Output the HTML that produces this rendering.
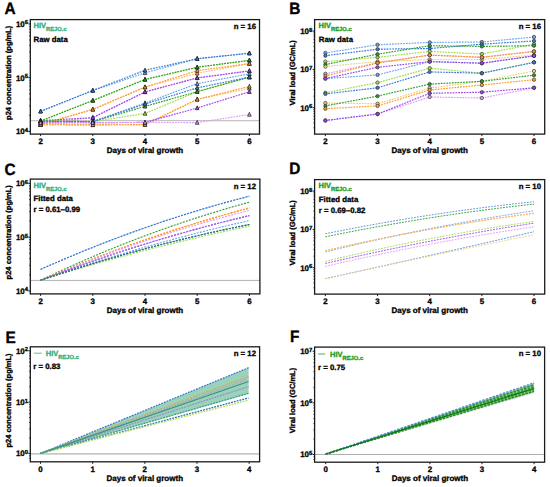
<!DOCTYPE html>
<html><head><meta charset="utf-8"><style>
html,body{margin:0;padding:0;background:#fff;width:550px;height:487px;overflow:hidden}
svg{display:block}
text{font-family:'Liberation Sans',sans-serif;font-weight:bold;text-rendering:geometricPrecision;stroke:currentColor;stroke-width:0.32px}
</style></head><body>
<svg width="550" height="487" viewBox="0 0 550 487">
<rect width="550" height="487" fill="#fff"/>
<line x1="30.3" y1="120.6" x2="259.5" y2="120.6" stroke="#c4c4c4" stroke-width="1.2"/>
<polyline points="40.60,111.30 92.80,90.50 145.00,72.90 197.20,58.70 249.40,53.20" fill="none" stroke="#6aa6e8" stroke-width="1.15" stroke-dasharray="1.8 1.0" opacity="1"/>
<polyline points="40.60,111.30 92.80,90.50 145.00,70.30 197.20,58.70 249.40,53.20" fill="none" stroke="#3a78dc" stroke-width="1.15" stroke-dasharray="1.8 1.0" opacity="1"/>
<polyline points="40.60,121.00 92.80,100.50 145.00,79.50 197.20,67.30 249.40,60.30" fill="none" stroke="#9ede46" stroke-width="1.15" stroke-dasharray="1.8 1.0" opacity="1"/>
<polyline points="40.60,121.00 92.80,100.50 145.00,79.50 197.20,67.30 249.40,60.30" fill="none" stroke="#2a9f2a" stroke-width="1.15" stroke-dasharray="1.8 1.0" opacity="1"/>
<polyline points="40.60,124.70 92.80,109.40 145.00,87.10 197.20,73.30 249.40,63.60" fill="none" stroke="#ffbf70" stroke-width="1.15" stroke-dasharray="1.8 1.0" opacity="1"/>
<polyline points="40.60,124.70 92.80,109.40 145.00,87.10 197.20,70.60 249.40,63.60" fill="none" stroke="#ff9a2a" stroke-width="1.15" stroke-dasharray="1.8 1.0" opacity="1"/>
<polyline points="40.60,122.90 92.80,117.70 145.00,91.90 197.20,77.90 249.40,70.90" fill="none" stroke="#dc9cf6" stroke-width="1.15" stroke-dasharray="1.8 1.0" opacity="1"/>
<polyline points="40.60,120.60 92.80,117.70 145.00,91.90 197.20,77.90 249.40,70.90" fill="none" stroke="#9a45ee" stroke-width="1.15" stroke-dasharray="1.8 1.0" opacity="1"/>
<polyline points="40.60,121.00 92.80,121.60 145.00,113.50 197.20,91.60 249.40,77.10" fill="none" stroke="#9ede46" stroke-width="1.15" stroke-dasharray="1.8 1.0" opacity="1"/>
<polyline points="40.60,121.00 92.80,121.60 145.00,106.40 197.20,91.60 249.40,77.10" fill="none" stroke="#2a9f2a" stroke-width="1.15" stroke-dasharray="1.8 1.0" opacity="1"/>
<polyline points="40.60,121.60 92.80,121.60 145.00,103.00 197.20,83.70 249.40,73.80" fill="none" stroke="#6aa6e8" stroke-width="1.15" stroke-dasharray="1.8 1.0" opacity="1"/>
<polyline points="40.60,121.60 92.80,121.60 145.00,104.00 197.20,87.90 249.40,77.10" fill="none" stroke="#3a78dc" stroke-width="1.15" stroke-dasharray="1.8 1.0" opacity="1"/>
<polyline points="40.60,124.70 92.80,124.90 145.00,124.60 197.20,99.40 249.40,88.30" fill="none" stroke="#ffbf70" stroke-width="1.15" stroke-dasharray="1.8 1.0" opacity="1"/>
<polyline points="40.60,124.70 92.80,124.90 145.00,124.60 197.20,99.40 249.40,86.40" fill="none" stroke="#ff9a2a" stroke-width="1.15" stroke-dasharray="1.8 1.0" opacity="1"/>
<polyline points="40.60,122.90 92.80,122.70 145.00,122.40 197.20,108.00 249.40,91.80" fill="none" stroke="#9a45ee" stroke-width="1.15" stroke-dasharray="1.8 1.0" opacity="1"/>
<polyline points="40.60,122.90 92.80,122.70 145.00,122.40 197.20,122.60 249.40,114.50" fill="none" stroke="#dc9cf6" stroke-width="1.15" stroke-dasharray="1.8 1.0" opacity="1"/>
<polygon points="40.60,109.10 42.40,113.00 38.80,113.00" fill="#6aa6e8" stroke="#151515" stroke-width="0.7" stroke-linejoin="round"/>
<polygon points="92.80,88.30 94.60,92.20 91.00,92.20" fill="#6aa6e8" stroke="#151515" stroke-width="0.7" stroke-linejoin="round"/>
<polygon points="145.00,70.70 146.80,74.60 143.20,74.60" fill="#6aa6e8" stroke="#151515" stroke-width="0.7" stroke-linejoin="round"/>
<polygon points="197.20,56.50 199.00,60.40 195.40,60.40" fill="#6aa6e8" stroke="#151515" stroke-width="0.7" stroke-linejoin="round"/>
<polygon points="249.40,51.00 251.20,54.90 247.60,54.90" fill="#6aa6e8" stroke="#151515" stroke-width="0.7" stroke-linejoin="round"/>
<polygon points="40.60,109.10 42.40,113.00 38.80,113.00" fill="#3a78dc" stroke="#151515" stroke-width="0.7" stroke-linejoin="round"/>
<polygon points="92.80,88.30 94.60,92.20 91.00,92.20" fill="#3a78dc" stroke="#151515" stroke-width="0.7" stroke-linejoin="round"/>
<polygon points="145.00,68.10 146.80,72.00 143.20,72.00" fill="#3a78dc" stroke="#151515" stroke-width="0.7" stroke-linejoin="round"/>
<polygon points="197.20,56.50 199.00,60.40 195.40,60.40" fill="#3a78dc" stroke="#151515" stroke-width="0.7" stroke-linejoin="round"/>
<polygon points="249.40,51.00 251.20,54.90 247.60,54.90" fill="#3a78dc" stroke="#151515" stroke-width="0.7" stroke-linejoin="round"/>
<polygon points="40.60,118.80 42.40,122.70 38.80,122.70" fill="#9ede46" stroke="#151515" stroke-width="0.7" stroke-linejoin="round"/>
<polygon points="92.80,98.30 94.60,102.20 91.00,102.20" fill="#9ede46" stroke="#151515" stroke-width="0.7" stroke-linejoin="round"/>
<polygon points="145.00,77.30 146.80,81.20 143.20,81.20" fill="#9ede46" stroke="#151515" stroke-width="0.7" stroke-linejoin="round"/>
<polygon points="197.20,65.10 199.00,69.00 195.40,69.00" fill="#9ede46" stroke="#151515" stroke-width="0.7" stroke-linejoin="round"/>
<polygon points="249.40,58.10 251.20,62.00 247.60,62.00" fill="#9ede46" stroke="#151515" stroke-width="0.7" stroke-linejoin="round"/>
<polygon points="40.60,118.80 42.40,122.70 38.80,122.70" fill="#2a9f2a" stroke="#151515" stroke-width="0.7" stroke-linejoin="round"/>
<polygon points="92.80,98.30 94.60,102.20 91.00,102.20" fill="#2a9f2a" stroke="#151515" stroke-width="0.7" stroke-linejoin="round"/>
<polygon points="145.00,77.30 146.80,81.20 143.20,81.20" fill="#2a9f2a" stroke="#151515" stroke-width="0.7" stroke-linejoin="round"/>
<polygon points="197.20,65.10 199.00,69.00 195.40,69.00" fill="#2a9f2a" stroke="#151515" stroke-width="0.7" stroke-linejoin="round"/>
<polygon points="249.40,58.10 251.20,62.00 247.60,62.00" fill="#2a9f2a" stroke="#151515" stroke-width="0.7" stroke-linejoin="round"/>
<polygon points="40.60,122.50 42.40,126.40 38.80,126.40" fill="#ffbf70" stroke="#151515" stroke-width="0.7" stroke-linejoin="round"/>
<polygon points="92.80,107.20 94.60,111.10 91.00,111.10" fill="#ffbf70" stroke="#151515" stroke-width="0.7" stroke-linejoin="round"/>
<polygon points="145.00,84.90 146.80,88.80 143.20,88.80" fill="#ffbf70" stroke="#151515" stroke-width="0.7" stroke-linejoin="round"/>
<polygon points="197.20,71.10 199.00,75.00 195.40,75.00" fill="#ffbf70" stroke="#151515" stroke-width="0.7" stroke-linejoin="round"/>
<polygon points="249.40,61.40 251.20,65.30 247.60,65.30" fill="#ffbf70" stroke="#151515" stroke-width="0.7" stroke-linejoin="round"/>
<polygon points="40.60,122.50 42.40,126.40 38.80,126.40" fill="#ff9a2a" stroke="#151515" stroke-width="0.7" stroke-linejoin="round"/>
<polygon points="92.80,107.20 94.60,111.10 91.00,111.10" fill="#ff9a2a" stroke="#151515" stroke-width="0.7" stroke-linejoin="round"/>
<polygon points="145.00,84.90 146.80,88.80 143.20,88.80" fill="#ff9a2a" stroke="#151515" stroke-width="0.7" stroke-linejoin="round"/>
<polygon points="197.20,68.40 199.00,72.30 195.40,72.30" fill="#ff9a2a" stroke="#151515" stroke-width="0.7" stroke-linejoin="round"/>
<polygon points="249.40,61.40 251.20,65.30 247.60,65.30" fill="#ff9a2a" stroke="#151515" stroke-width="0.7" stroke-linejoin="round"/>
<polygon points="40.60,120.70 42.40,124.60 38.80,124.60" fill="#dc9cf6" stroke="#151515" stroke-width="0.7" stroke-linejoin="round"/>
<polygon points="92.80,115.50 94.60,119.40 91.00,119.40" fill="#dc9cf6" stroke="#151515" stroke-width="0.7" stroke-linejoin="round"/>
<polygon points="145.00,89.70 146.80,93.60 143.20,93.60" fill="#dc9cf6" stroke="#151515" stroke-width="0.7" stroke-linejoin="round"/>
<polygon points="197.20,75.70 199.00,79.60 195.40,79.60" fill="#dc9cf6" stroke="#151515" stroke-width="0.7" stroke-linejoin="round"/>
<polygon points="249.40,68.70 251.20,72.60 247.60,72.60" fill="#dc9cf6" stroke="#151515" stroke-width="0.7" stroke-linejoin="round"/>
<polygon points="40.60,118.40 42.40,122.30 38.80,122.30" fill="#9a45ee" stroke="#151515" stroke-width="0.7" stroke-linejoin="round"/>
<polygon points="92.80,115.50 94.60,119.40 91.00,119.40" fill="#9a45ee" stroke="#151515" stroke-width="0.7" stroke-linejoin="round"/>
<polygon points="145.00,89.70 146.80,93.60 143.20,93.60" fill="#9a45ee" stroke="#151515" stroke-width="0.7" stroke-linejoin="round"/>
<polygon points="197.20,75.70 199.00,79.60 195.40,79.60" fill="#9a45ee" stroke="#151515" stroke-width="0.7" stroke-linejoin="round"/>
<polygon points="249.40,68.70 251.20,72.60 247.60,72.60" fill="#9a45ee" stroke="#151515" stroke-width="0.7" stroke-linejoin="round"/>
<polygon points="40.60,118.80 42.40,122.70 38.80,122.70" fill="#9ede46" stroke="#151515" stroke-width="0.7" stroke-linejoin="round"/>
<polygon points="92.80,119.40 94.60,123.30 91.00,123.30" fill="#9ede46" stroke="#151515" stroke-width="0.7" stroke-linejoin="round"/>
<polygon points="145.00,111.30 146.80,115.20 143.20,115.20" fill="#9ede46" stroke="#151515" stroke-width="0.7" stroke-linejoin="round"/>
<polygon points="197.20,89.40 199.00,93.30 195.40,93.30" fill="#9ede46" stroke="#151515" stroke-width="0.7" stroke-linejoin="round"/>
<polygon points="249.40,74.90 251.20,78.80 247.60,78.80" fill="#9ede46" stroke="#151515" stroke-width="0.7" stroke-linejoin="round"/>
<polygon points="40.60,118.80 42.40,122.70 38.80,122.70" fill="#2a9f2a" stroke="#151515" stroke-width="0.7" stroke-linejoin="round"/>
<polygon points="92.80,119.40 94.60,123.30 91.00,123.30" fill="#2a9f2a" stroke="#151515" stroke-width="0.7" stroke-linejoin="round"/>
<polygon points="145.00,104.20 146.80,108.10 143.20,108.10" fill="#2a9f2a" stroke="#151515" stroke-width="0.7" stroke-linejoin="round"/>
<polygon points="197.20,89.40 199.00,93.30 195.40,93.30" fill="#2a9f2a" stroke="#151515" stroke-width="0.7" stroke-linejoin="round"/>
<polygon points="249.40,74.90 251.20,78.80 247.60,78.80" fill="#2a9f2a" stroke="#151515" stroke-width="0.7" stroke-linejoin="round"/>
<polygon points="40.60,119.40 42.40,123.30 38.80,123.30" fill="#6aa6e8" stroke="#151515" stroke-width="0.7" stroke-linejoin="round"/>
<polygon points="92.80,119.40 94.60,123.30 91.00,123.30" fill="#6aa6e8" stroke="#151515" stroke-width="0.7" stroke-linejoin="round"/>
<polygon points="145.00,100.80 146.80,104.70 143.20,104.70" fill="#6aa6e8" stroke="#151515" stroke-width="0.7" stroke-linejoin="round"/>
<polygon points="197.20,81.50 199.00,85.40 195.40,85.40" fill="#6aa6e8" stroke="#151515" stroke-width="0.7" stroke-linejoin="round"/>
<polygon points="249.40,71.60 251.20,75.50 247.60,75.50" fill="#6aa6e8" stroke="#151515" stroke-width="0.7" stroke-linejoin="round"/>
<polygon points="40.60,119.40 42.40,123.30 38.80,123.30" fill="#3a78dc" stroke="#151515" stroke-width="0.7" stroke-linejoin="round"/>
<polygon points="92.80,119.40 94.60,123.30 91.00,123.30" fill="#3a78dc" stroke="#151515" stroke-width="0.7" stroke-linejoin="round"/>
<polygon points="145.00,101.80 146.80,105.70 143.20,105.70" fill="#3a78dc" stroke="#151515" stroke-width="0.7" stroke-linejoin="round"/>
<polygon points="197.20,85.70 199.00,89.60 195.40,89.60" fill="#3a78dc" stroke="#151515" stroke-width="0.7" stroke-linejoin="round"/>
<polygon points="249.40,74.90 251.20,78.80 247.60,78.80" fill="#3a78dc" stroke="#151515" stroke-width="0.7" stroke-linejoin="round"/>
<polygon points="40.60,122.50 42.40,126.40 38.80,126.40" fill="#ffbf70" stroke="#151515" stroke-width="0.7" stroke-linejoin="round"/>
<polygon points="92.80,122.70 94.60,126.60 91.00,126.60" fill="#ffbf70" stroke="#151515" stroke-width="0.7" stroke-linejoin="round"/>
<polygon points="145.00,122.40 146.80,126.30 143.20,126.30" fill="#ffbf70" stroke="#151515" stroke-width="0.7" stroke-linejoin="round"/>
<polygon points="197.20,97.20 199.00,101.10 195.40,101.10" fill="#ffbf70" stroke="#151515" stroke-width="0.7" stroke-linejoin="round"/>
<polygon points="249.40,86.10 251.20,90.00 247.60,90.00" fill="#ffbf70" stroke="#151515" stroke-width="0.7" stroke-linejoin="round"/>
<polygon points="40.60,122.50 42.40,126.40 38.80,126.40" fill="#ff9a2a" stroke="#151515" stroke-width="0.7" stroke-linejoin="round"/>
<polygon points="92.80,122.70 94.60,126.60 91.00,126.60" fill="#ff9a2a" stroke="#151515" stroke-width="0.7" stroke-linejoin="round"/>
<polygon points="145.00,122.40 146.80,126.30 143.20,126.30" fill="#ff9a2a" stroke="#151515" stroke-width="0.7" stroke-linejoin="round"/>
<polygon points="197.20,97.20 199.00,101.10 195.40,101.10" fill="#ff9a2a" stroke="#151515" stroke-width="0.7" stroke-linejoin="round"/>
<polygon points="249.40,84.20 251.20,88.10 247.60,88.10" fill="#ff9a2a" stroke="#151515" stroke-width="0.7" stroke-linejoin="round"/>
<polygon points="40.60,120.70 42.40,124.60 38.80,124.60" fill="#9a45ee" stroke="#151515" stroke-width="0.7" stroke-linejoin="round"/>
<polygon points="92.80,120.50 94.60,124.40 91.00,124.40" fill="#9a45ee" stroke="#151515" stroke-width="0.7" stroke-linejoin="round"/>
<polygon points="145.00,120.20 146.80,124.10 143.20,124.10" fill="#9a45ee" stroke="#151515" stroke-width="0.7" stroke-linejoin="round"/>
<polygon points="197.20,105.80 199.00,109.70 195.40,109.70" fill="#9a45ee" stroke="#151515" stroke-width="0.7" stroke-linejoin="round"/>
<polygon points="249.40,89.60 251.20,93.50 247.60,93.50" fill="#9a45ee" stroke="#151515" stroke-width="0.7" stroke-linejoin="round"/>
<polygon points="40.60,120.70 42.40,124.60 38.80,124.60" fill="#dc9cf6" stroke="#151515" stroke-width="0.7" stroke-linejoin="round"/>
<polygon points="92.80,120.50 94.60,124.40 91.00,124.40" fill="#dc9cf6" stroke="#151515" stroke-width="0.7" stroke-linejoin="round"/>
<polygon points="145.00,120.20 146.80,124.10 143.20,124.10" fill="#dc9cf6" stroke="#151515" stroke-width="0.7" stroke-linejoin="round"/>
<polygon points="197.20,120.40 199.00,124.30 195.40,124.30" fill="#dc9cf6" stroke="#151515" stroke-width="0.7" stroke-linejoin="round"/>
<polygon points="249.40,112.30 251.20,116.20 247.60,116.20" fill="#dc9cf6" stroke="#151515" stroke-width="0.7" stroke-linejoin="round"/>
<rect x="30.30" y="19.60" width="229.20" height="114.50" fill="none" stroke="#1a1a1a" stroke-width="1.3"/>
<line x1="40.60" y1="134.10" x2="40.60" y2="136.10" stroke="#1a1a1a" stroke-width="1"/>
<text x="40.60" y="144.30" font-size="7.9" text-anchor="middle" fill="#000" color="#000" >2</text>
<line x1="92.80" y1="134.10" x2="92.80" y2="136.10" stroke="#1a1a1a" stroke-width="1"/>
<text x="92.80" y="144.30" font-size="7.9" text-anchor="middle" fill="#000" color="#000" >3</text>
<line x1="145.00" y1="134.10" x2="145.00" y2="136.10" stroke="#1a1a1a" stroke-width="1"/>
<text x="145.00" y="144.30" font-size="7.9" text-anchor="middle" fill="#000" color="#000" >4</text>
<line x1="197.20" y1="134.10" x2="197.20" y2="136.10" stroke="#1a1a1a" stroke-width="1"/>
<text x="197.20" y="144.30" font-size="7.9" text-anchor="middle" fill="#000" color="#000" >5</text>
<line x1="249.40" y1="134.10" x2="249.40" y2="136.10" stroke="#1a1a1a" stroke-width="1"/>
<text x="249.40" y="144.30" font-size="7.9" text-anchor="middle" fill="#000" color="#000" >6</text>
<line x1="28.30" y1="23.90" x2="30.30" y2="23.90" stroke="#1a1a1a" stroke-width="1"/>
<text x="24.70" y="26.80" font-size="7.9" text-anchor="end" fill="#000">10</text>
<text x="24.70" y="24.30" font-size="5.9" text-anchor="start" fill="#000" style="stroke-width:0.3px">6</text>
<line x1="28.30" y1="77.70" x2="30.30" y2="77.70" stroke="#1a1a1a" stroke-width="1"/>
<text x="24.70" y="80.60" font-size="7.9" text-anchor="end" fill="#000">10</text>
<text x="24.70" y="78.10" font-size="5.9" text-anchor="start" fill="#000" style="stroke-width:0.3px">5</text>
<line x1="28.30" y1="131.50" x2="30.30" y2="131.50" stroke="#1a1a1a" stroke-width="1"/>
<text x="24.70" y="134.40" font-size="7.9" text-anchor="end" fill="#000">10</text>
<text x="24.70" y="131.90" font-size="5.9" text-anchor="start" fill="#000" style="stroke-width:0.3px">4</text>
<line x1="29.00" y1="115.30" x2="30.30" y2="115.30" stroke="#1a1a1a" stroke-width="0.7"/>
<line x1="29.00" y1="105.83" x2="30.30" y2="105.83" stroke="#1a1a1a" stroke-width="0.7"/>
<line x1="29.00" y1="99.11" x2="30.30" y2="99.11" stroke="#1a1a1a" stroke-width="0.7"/>
<line x1="29.00" y1="93.90" x2="30.30" y2="93.90" stroke="#1a1a1a" stroke-width="0.7"/>
<line x1="29.00" y1="89.64" x2="30.30" y2="89.64" stroke="#1a1a1a" stroke-width="0.7"/>
<line x1="29.00" y1="86.03" x2="30.30" y2="86.03" stroke="#1a1a1a" stroke-width="0.7"/>
<line x1="29.00" y1="82.91" x2="30.30" y2="82.91" stroke="#1a1a1a" stroke-width="0.7"/>
<line x1="29.00" y1="80.16" x2="30.30" y2="80.16" stroke="#1a1a1a" stroke-width="0.7"/>
<line x1="29.00" y1="61.50" x2="30.30" y2="61.50" stroke="#1a1a1a" stroke-width="0.7"/>
<line x1="29.00" y1="52.03" x2="30.30" y2="52.03" stroke="#1a1a1a" stroke-width="0.7"/>
<line x1="29.00" y1="45.31" x2="30.30" y2="45.31" stroke="#1a1a1a" stroke-width="0.7"/>
<line x1="29.00" y1="40.10" x2="30.30" y2="40.10" stroke="#1a1a1a" stroke-width="0.7"/>
<line x1="29.00" y1="35.84" x2="30.30" y2="35.84" stroke="#1a1a1a" stroke-width="0.7"/>
<line x1="29.00" y1="32.23" x2="30.30" y2="32.23" stroke="#1a1a1a" stroke-width="0.7"/>
<line x1="29.00" y1="29.11" x2="30.30" y2="29.11" stroke="#1a1a1a" stroke-width="0.7"/>
<line x1="29.00" y1="26.36" x2="30.30" y2="26.36" stroke="#1a1a1a" stroke-width="0.7"/>
<text transform="translate(10.80,72.80) rotate(-90)" font-size="7.5" text-anchor="middle" fill="#000">p24 concentration (pg/mL)</text>
<text x="145.00" y="152.80" font-size="8" text-anchor="middle" fill="#000" color="#000" >Days of viral growth</text>
<text transform="translate(4.60,13.90) scale(0.94,1)" font-size="16.4" fill="#000">A</text>
<text x="33.50" y="28.00" font-size="7.5" fill="#36ad7b" color="#36ad7b">HIV<tspan font-size="5.8" dy="3.2">REJO.c</tspan></text>
<text x="33.50" y="41.60" font-size="7.8" text-anchor="start" fill="#000" color="#000" >Raw data</text>
<text x="256.00" y="28.80" font-size="7.8" text-anchor="end" fill="#000" color="#000" >n = 16</text>
<polyline points="325.40,52.90 377.55,44.80 429.70,42.40 481.85,42.00 534.00,37.00" fill="none" stroke="#6aa6e8" stroke-width="1.15" stroke-dasharray="1.8 1.0" opacity="1"/>
<polyline points="325.40,55.70 377.55,49.20 429.70,48.50 481.85,44.20 534.00,40.90" fill="none" stroke="#3a78dc" stroke-width="1.15" stroke-dasharray="1.8 1.0" opacity="1"/>
<polyline points="325.40,61.60 377.55,57.30 429.70,51.40 481.85,54.00 534.00,44.20" fill="none" stroke="#9ede46" stroke-width="1.15" stroke-dasharray="1.8 1.0" opacity="1"/>
<polyline points="325.40,64.50 377.55,54.20 429.70,45.70 481.85,46.40 534.00,45.70" fill="none" stroke="#2a9f2a" stroke-width="1.15" stroke-dasharray="1.8 1.0" opacity="1"/>
<polyline points="325.40,66.60 377.55,61.60 429.70,59.50 481.85,59.50 534.00,55.10" fill="none" stroke="#f0d080" stroke-width="1.15" stroke-dasharray="1.8 1.0" opacity="1"/>
<polyline points="325.40,73.80 377.55,62.90 429.70,55.10 481.85,57.30 534.00,51.40" fill="none" stroke="#dc9cf6" stroke-width="1.15" stroke-dasharray="1.8 1.0" opacity="1"/>
<polyline points="325.40,76.00 377.55,62.90 429.70,55.10 481.85,57.30 534.00,51.40" fill="none" stroke="#ff9a2a" stroke-width="1.15" stroke-dasharray="1.8 1.0" opacity="1"/>
<polyline points="325.40,78.60 377.55,74.90 429.70,61.60 481.85,63.20 534.00,55.90" fill="none" stroke="#6aa6e8" stroke-width="1.15" stroke-dasharray="1.8 1.0" opacity="1"/>
<polyline points="325.40,78.60 377.55,67.30 429.70,61.60 481.85,63.20 534.00,55.90" fill="none" stroke="#9a45ee" stroke-width="1.15" stroke-dasharray="1.8 1.0" opacity="1"/>
<polyline points="325.40,92.80 377.55,82.60 429.70,68.20 481.85,73.20 534.00,62.30" fill="none" stroke="#9ede46" stroke-width="1.15" stroke-dasharray="1.8 1.0" opacity="1"/>
<polyline points="325.40,93.90 377.55,87.80 429.70,71.90 481.85,73.20 534.00,62.30" fill="none" stroke="#3a78dc" stroke-width="1.15" stroke-dasharray="1.8 1.0" opacity="1"/>
<polyline points="325.40,103.00 377.55,103.70 429.70,88.00 481.85,81.30 534.00,71.00" fill="none" stroke="#f0d080" stroke-width="1.15" stroke-dasharray="1.8 1.0" opacity="1"/>
<polyline points="325.40,105.90 377.55,96.10 429.70,84.10 481.85,81.30 534.00,75.20" fill="none" stroke="#2a9f2a" stroke-width="1.15" stroke-dasharray="1.8 1.0" opacity="1"/>
<polyline points="325.40,108.70 377.55,105.90 429.70,90.00 481.85,85.00 534.00,79.70" fill="none" stroke="#ff9a2a" stroke-width="1.15" stroke-dasharray="1.8 1.0" opacity="1"/>
<polyline points="325.40,120.50 377.55,114.00 429.70,97.00 481.85,98.00 534.00,87.80" fill="none" stroke="#dc9cf6" stroke-width="1.15" stroke-dasharray="1.8 1.0" opacity="1"/>
<polyline points="325.40,120.50 377.55,114.00 429.70,93.30 481.85,92.20 534.00,87.80" fill="none" stroke="#9a45ee" stroke-width="1.15" stroke-dasharray="1.8 1.0" opacity="1"/>
<circle cx="325.40" cy="52.90" r="1.7" fill="#6aa6e8" stroke="#222" stroke-width="0.6"/>
<circle cx="377.55" cy="44.80" r="1.7" fill="#6aa6e8" stroke="#222" stroke-width="0.6"/>
<circle cx="429.70" cy="42.40" r="1.7" fill="#6aa6e8" stroke="#222" stroke-width="0.6"/>
<circle cx="481.85" cy="42.00" r="1.7" fill="#6aa6e8" stroke="#222" stroke-width="0.6"/>
<circle cx="534.00" cy="37.00" r="1.7" fill="#6aa6e8" stroke="#222" stroke-width="0.6"/>
<circle cx="325.40" cy="55.70" r="1.7" fill="#3a78dc" stroke="#222" stroke-width="0.6"/>
<circle cx="377.55" cy="49.20" r="1.7" fill="#3a78dc" stroke="#222" stroke-width="0.6"/>
<circle cx="429.70" cy="48.50" r="1.7" fill="#3a78dc" stroke="#222" stroke-width="0.6"/>
<circle cx="481.85" cy="44.20" r="1.7" fill="#3a78dc" stroke="#222" stroke-width="0.6"/>
<circle cx="534.00" cy="40.90" r="1.7" fill="#3a78dc" stroke="#222" stroke-width="0.6"/>
<circle cx="325.40" cy="61.60" r="1.7" fill="#9ede46" stroke="#222" stroke-width="0.6"/>
<circle cx="377.55" cy="57.30" r="1.7" fill="#9ede46" stroke="#222" stroke-width="0.6"/>
<circle cx="429.70" cy="51.40" r="1.7" fill="#9ede46" stroke="#222" stroke-width="0.6"/>
<circle cx="481.85" cy="54.00" r="1.7" fill="#9ede46" stroke="#222" stroke-width="0.6"/>
<circle cx="534.00" cy="44.20" r="1.7" fill="#9ede46" stroke="#222" stroke-width="0.6"/>
<circle cx="325.40" cy="64.50" r="1.7" fill="#2a9f2a" stroke="#222" stroke-width="0.6"/>
<circle cx="377.55" cy="54.20" r="1.7" fill="#2a9f2a" stroke="#222" stroke-width="0.6"/>
<circle cx="429.70" cy="45.70" r="1.7" fill="#2a9f2a" stroke="#222" stroke-width="0.6"/>
<circle cx="481.85" cy="46.40" r="1.7" fill="#2a9f2a" stroke="#222" stroke-width="0.6"/>
<circle cx="534.00" cy="45.70" r="1.7" fill="#2a9f2a" stroke="#222" stroke-width="0.6"/>
<circle cx="325.40" cy="66.60" r="1.7" fill="#f0d080" stroke="#222" stroke-width="0.6"/>
<circle cx="377.55" cy="61.60" r="1.7" fill="#f0d080" stroke="#222" stroke-width="0.6"/>
<circle cx="429.70" cy="59.50" r="1.7" fill="#f0d080" stroke="#222" stroke-width="0.6"/>
<circle cx="481.85" cy="59.50" r="1.7" fill="#f0d080" stroke="#222" stroke-width="0.6"/>
<circle cx="534.00" cy="55.10" r="1.7" fill="#f0d080" stroke="#222" stroke-width="0.6"/>
<circle cx="325.40" cy="73.80" r="1.7" fill="#dc9cf6" stroke="#222" stroke-width="0.6"/>
<circle cx="377.55" cy="62.90" r="1.7" fill="#dc9cf6" stroke="#222" stroke-width="0.6"/>
<circle cx="429.70" cy="55.10" r="1.7" fill="#dc9cf6" stroke="#222" stroke-width="0.6"/>
<circle cx="481.85" cy="57.30" r="1.7" fill="#dc9cf6" stroke="#222" stroke-width="0.6"/>
<circle cx="534.00" cy="51.40" r="1.7" fill="#dc9cf6" stroke="#222" stroke-width="0.6"/>
<circle cx="325.40" cy="76.00" r="1.7" fill="#ff9a2a" stroke="#222" stroke-width="0.6"/>
<circle cx="377.55" cy="62.90" r="1.7" fill="#ff9a2a" stroke="#222" stroke-width="0.6"/>
<circle cx="429.70" cy="55.10" r="1.7" fill="#ff9a2a" stroke="#222" stroke-width="0.6"/>
<circle cx="481.85" cy="57.30" r="1.7" fill="#ff9a2a" stroke="#222" stroke-width="0.6"/>
<circle cx="534.00" cy="51.40" r="1.7" fill="#ff9a2a" stroke="#222" stroke-width="0.6"/>
<circle cx="325.40" cy="78.60" r="1.7" fill="#6aa6e8" stroke="#222" stroke-width="0.6"/>
<circle cx="377.55" cy="74.90" r="1.7" fill="#6aa6e8" stroke="#222" stroke-width="0.6"/>
<circle cx="429.70" cy="61.60" r="1.7" fill="#6aa6e8" stroke="#222" stroke-width="0.6"/>
<circle cx="481.85" cy="63.20" r="1.7" fill="#6aa6e8" stroke="#222" stroke-width="0.6"/>
<circle cx="534.00" cy="55.90" r="1.7" fill="#6aa6e8" stroke="#222" stroke-width="0.6"/>
<circle cx="325.40" cy="78.60" r="1.7" fill="#9a45ee" stroke="#222" stroke-width="0.6"/>
<circle cx="377.55" cy="67.30" r="1.7" fill="#9a45ee" stroke="#222" stroke-width="0.6"/>
<circle cx="429.70" cy="61.60" r="1.7" fill="#9a45ee" stroke="#222" stroke-width="0.6"/>
<circle cx="481.85" cy="63.20" r="1.7" fill="#9a45ee" stroke="#222" stroke-width="0.6"/>
<circle cx="534.00" cy="55.90" r="1.7" fill="#9a45ee" stroke="#222" stroke-width="0.6"/>
<circle cx="325.40" cy="92.80" r="1.7" fill="#9ede46" stroke="#222" stroke-width="0.6"/>
<circle cx="377.55" cy="82.60" r="1.7" fill="#9ede46" stroke="#222" stroke-width="0.6"/>
<circle cx="429.70" cy="68.20" r="1.7" fill="#9ede46" stroke="#222" stroke-width="0.6"/>
<circle cx="481.85" cy="73.20" r="1.7" fill="#9ede46" stroke="#222" stroke-width="0.6"/>
<circle cx="534.00" cy="62.30" r="1.7" fill="#9ede46" stroke="#222" stroke-width="0.6"/>
<circle cx="325.40" cy="93.90" r="1.7" fill="#3a78dc" stroke="#222" stroke-width="0.6"/>
<circle cx="377.55" cy="87.80" r="1.7" fill="#3a78dc" stroke="#222" stroke-width="0.6"/>
<circle cx="429.70" cy="71.90" r="1.7" fill="#3a78dc" stroke="#222" stroke-width="0.6"/>
<circle cx="481.85" cy="73.20" r="1.7" fill="#3a78dc" stroke="#222" stroke-width="0.6"/>
<circle cx="534.00" cy="62.30" r="1.7" fill="#3a78dc" stroke="#222" stroke-width="0.6"/>
<circle cx="325.40" cy="103.00" r="1.7" fill="#f0d080" stroke="#222" stroke-width="0.6"/>
<circle cx="377.55" cy="103.70" r="1.7" fill="#f0d080" stroke="#222" stroke-width="0.6"/>
<circle cx="429.70" cy="88.00" r="1.7" fill="#f0d080" stroke="#222" stroke-width="0.6"/>
<circle cx="481.85" cy="81.30" r="1.7" fill="#f0d080" stroke="#222" stroke-width="0.6"/>
<circle cx="534.00" cy="71.00" r="1.7" fill="#f0d080" stroke="#222" stroke-width="0.6"/>
<circle cx="325.40" cy="105.90" r="1.7" fill="#2a9f2a" stroke="#222" stroke-width="0.6"/>
<circle cx="377.55" cy="96.10" r="1.7" fill="#2a9f2a" stroke="#222" stroke-width="0.6"/>
<circle cx="429.70" cy="84.10" r="1.7" fill="#2a9f2a" stroke="#222" stroke-width="0.6"/>
<circle cx="481.85" cy="81.30" r="1.7" fill="#2a9f2a" stroke="#222" stroke-width="0.6"/>
<circle cx="534.00" cy="75.20" r="1.7" fill="#2a9f2a" stroke="#222" stroke-width="0.6"/>
<circle cx="325.40" cy="108.70" r="1.7" fill="#ff9a2a" stroke="#222" stroke-width="0.6"/>
<circle cx="377.55" cy="105.90" r="1.7" fill="#ff9a2a" stroke="#222" stroke-width="0.6"/>
<circle cx="429.70" cy="90.00" r="1.7" fill="#ff9a2a" stroke="#222" stroke-width="0.6"/>
<circle cx="481.85" cy="85.00" r="1.7" fill="#ff9a2a" stroke="#222" stroke-width="0.6"/>
<circle cx="534.00" cy="79.70" r="1.7" fill="#ff9a2a" stroke="#222" stroke-width="0.6"/>
<circle cx="325.40" cy="120.50" r="1.7" fill="#dc9cf6" stroke="#222" stroke-width="0.6"/>
<circle cx="377.55" cy="114.00" r="1.7" fill="#dc9cf6" stroke="#222" stroke-width="0.6"/>
<circle cx="429.70" cy="97.00" r="1.7" fill="#dc9cf6" stroke="#222" stroke-width="0.6"/>
<circle cx="481.85" cy="98.00" r="1.7" fill="#dc9cf6" stroke="#222" stroke-width="0.6"/>
<circle cx="534.00" cy="87.80" r="1.7" fill="#dc9cf6" stroke="#222" stroke-width="0.6"/>
<circle cx="325.40" cy="120.50" r="1.7" fill="#9a45ee" stroke="#222" stroke-width="0.6"/>
<circle cx="377.55" cy="114.00" r="1.7" fill="#9a45ee" stroke="#222" stroke-width="0.6"/>
<circle cx="429.70" cy="93.30" r="1.7" fill="#9a45ee" stroke="#222" stroke-width="0.6"/>
<circle cx="481.85" cy="92.20" r="1.7" fill="#9a45ee" stroke="#222" stroke-width="0.6"/>
<circle cx="534.00" cy="87.80" r="1.7" fill="#9a45ee" stroke="#222" stroke-width="0.6"/>
<rect x="314.60" y="19.60" width="230.10" height="114.50" fill="none" stroke="#1a1a1a" stroke-width="1.3"/>
<line x1="325.40" y1="134.10" x2="325.40" y2="136.10" stroke="#1a1a1a" stroke-width="1"/>
<text x="325.40" y="144.30" font-size="7.9" text-anchor="middle" fill="#000" color="#000" >2</text>
<line x1="377.55" y1="134.10" x2="377.55" y2="136.10" stroke="#1a1a1a" stroke-width="1"/>
<text x="377.55" y="144.30" font-size="7.9" text-anchor="middle" fill="#000" color="#000" >3</text>
<line x1="429.70" y1="134.10" x2="429.70" y2="136.10" stroke="#1a1a1a" stroke-width="1"/>
<text x="429.70" y="144.30" font-size="7.9" text-anchor="middle" fill="#000" color="#000" >4</text>
<line x1="481.85" y1="134.10" x2="481.85" y2="136.10" stroke="#1a1a1a" stroke-width="1"/>
<text x="481.85" y="144.30" font-size="7.9" text-anchor="middle" fill="#000" color="#000" >5</text>
<line x1="534.00" y1="134.10" x2="534.00" y2="136.10" stroke="#1a1a1a" stroke-width="1"/>
<text x="534.00" y="144.30" font-size="7.9" text-anchor="middle" fill="#000" color="#000" >6</text>
<line x1="312.60" y1="31.10" x2="314.60" y2="31.10" stroke="#1a1a1a" stroke-width="1"/>
<text x="309.00" y="34.00" font-size="7.9" text-anchor="end" fill="#000">10</text>
<text x="309.00" y="31.50" font-size="5.9" text-anchor="start" fill="#000" style="stroke-width:0.3px">8</text>
<line x1="312.60" y1="69.40" x2="314.60" y2="69.40" stroke="#1a1a1a" stroke-width="1"/>
<text x="309.00" y="72.30" font-size="7.9" text-anchor="end" fill="#000">10</text>
<text x="309.00" y="69.80" font-size="5.9" text-anchor="start" fill="#000" style="stroke-width:0.3px">7</text>
<line x1="312.60" y1="107.70" x2="314.60" y2="107.70" stroke="#1a1a1a" stroke-width="1"/>
<text x="309.00" y="110.60" font-size="7.9" text-anchor="end" fill="#000">10</text>
<text x="309.00" y="108.10" font-size="5.9" text-anchor="start" fill="#000" style="stroke-width:0.3px">6</text>
<line x1="313.30" y1="127.73" x2="314.60" y2="127.73" stroke="#1a1a1a" stroke-width="0.7"/>
<line x1="313.30" y1="122.94" x2="314.60" y2="122.94" stroke="#1a1a1a" stroke-width="0.7"/>
<line x1="313.30" y1="119.23" x2="314.60" y2="119.23" stroke="#1a1a1a" stroke-width="0.7"/>
<line x1="313.30" y1="116.20" x2="314.60" y2="116.20" stroke="#1a1a1a" stroke-width="0.7"/>
<line x1="313.30" y1="113.63" x2="314.60" y2="113.63" stroke="#1a1a1a" stroke-width="0.7"/>
<line x1="313.30" y1="111.41" x2="314.60" y2="111.41" stroke="#1a1a1a" stroke-width="0.7"/>
<line x1="313.30" y1="109.45" x2="314.60" y2="109.45" stroke="#1a1a1a" stroke-width="0.7"/>
<line x1="313.30" y1="96.17" x2="314.60" y2="96.17" stroke="#1a1a1a" stroke-width="0.7"/>
<line x1="313.30" y1="89.43" x2="314.60" y2="89.43" stroke="#1a1a1a" stroke-width="0.7"/>
<line x1="313.30" y1="84.64" x2="314.60" y2="84.64" stroke="#1a1a1a" stroke-width="0.7"/>
<line x1="313.30" y1="80.93" x2="314.60" y2="80.93" stroke="#1a1a1a" stroke-width="0.7"/>
<line x1="313.30" y1="77.90" x2="314.60" y2="77.90" stroke="#1a1a1a" stroke-width="0.7"/>
<line x1="313.30" y1="75.33" x2="314.60" y2="75.33" stroke="#1a1a1a" stroke-width="0.7"/>
<line x1="313.30" y1="73.11" x2="314.60" y2="73.11" stroke="#1a1a1a" stroke-width="0.7"/>
<line x1="313.30" y1="71.15" x2="314.60" y2="71.15" stroke="#1a1a1a" stroke-width="0.7"/>
<line x1="313.30" y1="57.87" x2="314.60" y2="57.87" stroke="#1a1a1a" stroke-width="0.7"/>
<line x1="313.30" y1="51.13" x2="314.60" y2="51.13" stroke="#1a1a1a" stroke-width="0.7"/>
<line x1="313.30" y1="46.34" x2="314.60" y2="46.34" stroke="#1a1a1a" stroke-width="0.7"/>
<line x1="313.30" y1="42.63" x2="314.60" y2="42.63" stroke="#1a1a1a" stroke-width="0.7"/>
<line x1="313.30" y1="39.60" x2="314.60" y2="39.60" stroke="#1a1a1a" stroke-width="0.7"/>
<line x1="313.30" y1="37.03" x2="314.60" y2="37.03" stroke="#1a1a1a" stroke-width="0.7"/>
<line x1="313.30" y1="34.81" x2="314.60" y2="34.81" stroke="#1a1a1a" stroke-width="0.7"/>
<line x1="313.30" y1="32.85" x2="314.60" y2="32.85" stroke="#1a1a1a" stroke-width="0.7"/>
<text transform="translate(295.00,72.80) rotate(-90)" font-size="7.5" text-anchor="middle" fill="#000">Viral load (GC/mL)</text>
<text x="429.70" y="152.80" font-size="8" text-anchor="middle" fill="#000" color="#000" >Days of viral growth</text>
<text transform="translate(289.30,13.90) scale(0.94,1)" font-size="16.4" fill="#000">B</text>
<text x="318.50" y="27.80" font-size="7.5" fill="#1c9c1c" color="#1c9c1c">HIV<tspan font-size="5.8" dy="3.2">REJO.c</tspan></text>
<text x="318.80" y="41.50" font-size="7.8" text-anchor="start" fill="#000" color="#000" >Raw data</text>
<text x="541.00" y="28.80" font-size="7.8" text-anchor="end" fill="#000" color="#000" >n = 16</text>
<line x1="30.3" y1="280.4" x2="259.9" y2="280.4" stroke="#b0b0b0" stroke-width="1"/>
<polyline points="40.60,269.40 45.82,267.08 51.04,264.79 56.26,262.53 61.48,260.29 66.70,258.07 71.92,255.88 77.14,253.72 82.36,251.58 87.58,249.47 92.80,247.38 98.02,245.31 103.24,243.27 108.46,241.26 113.68,239.27 118.90,237.30 124.12,235.36 129.34,233.45 134.56,231.56 139.78,229.69 145.00,227.85 150.22,226.04 155.44,224.25 160.66,222.48 165.88,220.74 171.10,219.03 176.32,217.34 181.54,215.67 186.76,214.03 191.98,212.42 197.20,210.83 202.42,209.26 207.64,207.72 212.86,206.21 218.08,204.72 223.30,203.25 228.52,201.81 233.74,200.40 238.96,199.01 244.18,197.64 249.40,196.30" fill="none" stroke="#6aa6e8" stroke-width="1.1" stroke-dasharray="2 1.2" opacity="1"/>
<polyline points="40.60,269.40 45.82,267.08 51.04,264.78 56.26,262.51 61.48,260.26 66.70,258.04 71.92,255.84 77.14,253.67 82.36,251.52 87.58,249.40 92.80,247.30 98.02,245.23 103.24,243.19 108.46,241.16 113.68,239.17 118.90,237.20 124.12,235.25 129.34,233.33 134.56,231.44 139.78,229.57 145.00,227.72 150.22,225.90 155.44,224.11 160.66,222.34 165.88,220.59 171.10,218.87 176.32,217.18 181.54,215.51 186.76,213.87 191.98,212.25 197.20,210.65 202.42,209.09 207.64,207.54 212.86,206.02 218.08,204.53 223.30,203.06 228.52,201.62 233.74,200.20 238.96,198.81 244.18,197.44 249.40,196.10" fill="none" stroke="#3a78dc" stroke-width="1.1" stroke-dasharray="2 1.2" opacity="1"/>
<polyline points="40.60,280.20 45.82,277.72 51.04,275.27 56.26,272.85 61.48,270.46 66.70,268.09 71.92,265.75 77.14,263.43 82.36,261.14 87.58,258.88 92.80,256.65 98.02,254.44 103.24,252.26 108.46,250.11 113.68,247.99 118.90,245.89 124.12,243.82 129.34,241.77 134.56,239.75 139.78,237.76 145.00,235.80 150.22,233.86 155.44,231.95 160.66,230.07 165.88,228.22 171.10,226.39 176.32,224.59 181.54,222.81 186.76,221.06 191.98,219.34 197.20,217.65 202.42,215.98 207.64,214.34 212.86,212.73 218.08,211.15 223.30,209.59 228.52,208.06 233.74,206.55 238.96,205.07 244.18,203.62 249.40,202.20" fill="none" stroke="#2a9f2a" stroke-width="1.1" stroke-dasharray="2 1.2" opacity="1"/>
<polyline points="40.60,280.20 45.82,277.97 51.04,275.77 56.26,273.59 61.48,271.43 66.70,269.29 71.92,267.17 77.14,265.07 82.36,263.00 87.58,260.95 92.80,258.91 98.02,256.90 103.24,254.92 108.46,252.95 113.68,251.00 118.90,249.08 124.12,247.18 129.34,245.30 134.56,243.44 139.78,241.60 145.00,239.79 150.22,237.99 155.44,236.22 160.66,234.47 165.88,232.74 171.10,231.03 176.32,229.34 181.54,227.68 186.76,226.04 191.98,224.41 197.20,222.81 202.42,221.24 207.64,219.68 212.86,218.14 218.08,216.63 223.30,215.14 228.52,213.67 233.74,212.22 238.96,210.79 244.18,209.38 249.40,208.00" fill="none" stroke="#ff9a2a" stroke-width="1.1" stroke-dasharray="2 1.2" opacity="1"/>
<polyline points="40.60,280.20 45.82,277.97 51.04,275.77 56.26,273.59 61.48,271.43 66.70,269.29 71.92,267.17 77.14,265.07 82.36,263.00 87.58,260.95 92.80,258.91 98.02,256.90 103.24,254.92 108.46,252.95 113.68,251.00 118.90,249.08 124.12,247.18 129.34,245.30 134.56,243.44 139.78,241.60 145.00,239.79 150.22,237.99 155.44,236.22 160.66,234.47 165.88,232.74 171.10,231.03 176.32,229.34 181.54,227.68 186.76,226.04 191.98,224.41 197.20,222.81 202.42,221.24 207.64,219.68 212.86,218.14 218.08,216.63 223.30,215.14 228.52,213.67 233.74,212.22 238.96,210.79 244.18,209.38 249.40,208.00" fill="none" stroke="#ff9a2a" stroke-width="1.1" stroke-dasharray="2 1.2" opacity="1"/>
<polyline points="40.60,280.20 45.82,278.04 51.04,275.90 56.26,273.78 61.48,271.68 66.70,269.60 71.92,267.54 77.14,265.51 82.36,263.50 87.58,261.51 92.80,259.54 98.02,257.59 103.24,255.66 108.46,253.75 113.68,251.87 118.90,250.01 124.12,248.17 129.34,246.35 134.56,244.55 139.78,242.77 145.00,241.01 150.22,239.28 155.44,237.57 160.66,235.88 165.88,234.21 171.10,232.56 176.32,230.93 181.54,229.32 186.76,227.74 191.98,226.18 197.20,224.64 202.42,223.12 207.64,221.62 212.86,220.14 218.08,218.68 223.30,217.25 228.52,215.84 233.74,214.45 238.96,213.08 244.18,211.73 249.40,210.40" fill="none" stroke="#dc9cf6" stroke-width="1.1" stroke-dasharray="2 1.2" opacity="1"/>
<polyline points="40.60,280.20 45.82,278.21 51.04,276.24 56.26,274.28 61.48,272.35 66.70,270.44 71.92,268.54 77.14,266.67 82.36,264.81 87.58,262.97 92.80,261.16 98.02,259.36 103.24,257.58 108.46,255.82 113.68,254.08 118.90,252.36 124.12,250.66 129.34,248.97 134.56,247.31 139.78,245.67 145.00,244.04 150.22,242.44 155.44,240.85 160.66,239.28 165.88,237.74 171.10,236.21 176.32,234.70 181.54,233.21 186.76,231.74 191.98,230.29 197.20,228.86 202.42,227.44 207.64,226.05 212.86,224.68 218.08,223.32 223.30,221.99 228.52,220.67 233.74,219.37 238.96,218.10 244.18,216.84 249.40,215.60" fill="none" stroke="#a35cf0" stroke-width="1.1" stroke-dasharray="2 1.2" opacity="1"/>
<polyline points="40.60,280.20 45.82,278.21 51.04,276.24 56.26,274.28 61.48,272.35 66.70,270.44 71.92,268.54 77.14,266.67 82.36,264.81 87.58,262.97 92.80,261.16 98.02,259.36 103.24,257.58 108.46,255.82 113.68,254.08 118.90,252.36 124.12,250.66 129.34,248.97 134.56,247.31 139.78,245.67 145.00,244.04 150.22,242.44 155.44,240.85 160.66,239.28 165.88,237.74 171.10,236.21 176.32,234.70 181.54,233.21 186.76,231.74 191.98,230.29 197.20,228.86 202.42,227.44 207.64,226.05 212.86,224.68 218.08,223.32 223.30,221.99 228.52,220.67 233.74,219.37 238.96,218.10 244.18,216.84 249.40,215.60" fill="none" stroke="#a35cf0" stroke-width="1.1" stroke-dasharray="2 1.2" opacity="1"/>
<polyline points="40.60,280.20 45.82,278.39 51.04,276.60 56.26,274.83 61.48,273.07 66.70,271.32 71.92,269.60 77.14,267.89 82.36,266.20 87.58,264.52 92.80,262.86 98.02,261.21 103.24,259.58 108.46,257.97 113.68,256.38 118.90,254.80 124.12,253.23 129.34,251.69 134.56,250.16 139.78,248.64 145.00,247.14 150.22,245.66 155.44,244.20 160.66,242.75 165.88,241.31 171.10,239.90 176.32,238.50 181.54,237.11 186.76,235.74 191.98,234.39 197.20,233.06 202.42,231.74 207.64,230.44 212.86,229.15 218.08,227.88 223.30,226.62 228.52,225.39 233.74,224.17 238.96,222.96 244.18,221.77 249.40,220.60" fill="none" stroke="#6aa6e8" stroke-width="1.1" stroke-dasharray="2 1.2" opacity="1"/>
<polyline points="40.60,280.20 45.82,278.58 51.04,276.98 56.26,275.39 61.48,273.81 66.70,272.25 71.92,270.70 77.14,269.17 82.36,267.64 87.58,266.14 92.80,264.64 98.02,263.16 103.24,261.70 108.46,260.24 113.68,258.80 118.90,257.38 124.12,255.97 129.34,254.57 134.56,253.18 139.78,251.81 145.00,250.46 150.22,249.11 155.44,247.78 160.66,246.47 165.88,245.17 171.10,243.88 176.32,242.60 181.54,241.34 186.76,240.10 191.98,238.86 197.20,237.64 202.42,236.44 207.64,235.24 212.86,234.07 218.08,232.90 223.30,231.75 228.52,230.61 233.74,229.49 238.96,228.38 244.18,227.28 249.40,226.20" fill="none" stroke="#9ede46" stroke-width="1.1" stroke-dasharray="2 1.2" opacity="1"/>
<polyline points="40.60,280.20 45.82,278.46 51.04,276.74 56.26,275.04 61.48,273.35 66.70,271.69 71.92,270.04 77.14,268.41 82.36,266.79 87.58,265.20 92.80,263.62 98.02,262.06 103.24,260.51 108.46,258.99 113.68,257.48 118.90,255.99 124.12,254.52 129.34,253.06 134.56,251.63 139.78,250.21 145.00,248.81 150.22,247.42 155.44,246.06 160.66,244.71 165.88,243.38 171.10,242.07 176.32,240.77 181.54,239.49 186.76,238.23 191.98,236.99 197.20,235.77 202.42,234.56 207.64,233.37 212.86,232.20 218.08,231.05 223.30,229.91 228.52,228.79 233.74,227.69 238.96,226.61 244.18,225.55 249.40,224.50" fill="none" stroke="#2a6f86" stroke-width="1.1" stroke-dasharray="2 1.2" opacity="1"/>
<polyline points="40.60,280.20 45.82,278.46 51.04,276.74 56.26,275.04 61.48,273.35 66.70,271.69 71.92,270.04 77.14,268.41 82.36,266.79 87.58,265.20 92.80,263.62 98.02,262.06 103.24,260.51 108.46,258.99 113.68,257.48 118.90,255.99 124.12,254.52 129.34,253.06 134.56,251.63 139.78,250.21 145.00,248.81 150.22,247.42 155.44,246.06 160.66,244.71 165.88,243.38 171.10,242.07 176.32,240.77 181.54,239.49 186.76,238.23 191.98,236.99 197.20,235.77 202.42,234.56 207.64,233.37 212.86,232.20 218.08,231.05 223.30,229.91 228.52,228.79 233.74,227.69 238.96,226.61 244.18,225.55 249.40,224.50" fill="none" stroke="#2a6f86" stroke-width="1.1" stroke-dasharray="2 1.2" opacity="1"/>
<rect x="30.30" y="179.10" width="229.60" height="114.80" fill="none" stroke="#1a1a1a" stroke-width="1.3"/>
<line x1="40.60" y1="293.90" x2="40.60" y2="295.90" stroke="#1a1a1a" stroke-width="1"/>
<text x="40.60" y="304.10" font-size="7.9" text-anchor="middle" fill="#000" color="#000" >2</text>
<line x1="92.80" y1="293.90" x2="92.80" y2="295.90" stroke="#1a1a1a" stroke-width="1"/>
<text x="92.80" y="304.10" font-size="7.9" text-anchor="middle" fill="#000" color="#000" >3</text>
<line x1="145.00" y1="293.90" x2="145.00" y2="295.90" stroke="#1a1a1a" stroke-width="1"/>
<text x="145.00" y="304.10" font-size="7.9" text-anchor="middle" fill="#000" color="#000" >4</text>
<line x1="197.20" y1="293.90" x2="197.20" y2="295.90" stroke="#1a1a1a" stroke-width="1"/>
<text x="197.20" y="304.10" font-size="7.9" text-anchor="middle" fill="#000" color="#000" >5</text>
<line x1="249.40" y1="293.90" x2="249.40" y2="295.90" stroke="#1a1a1a" stroke-width="1"/>
<text x="249.40" y="304.10" font-size="7.9" text-anchor="middle" fill="#000" color="#000" >6</text>
<line x1="28.30" y1="183.40" x2="30.30" y2="183.40" stroke="#1a1a1a" stroke-width="1"/>
<text x="24.70" y="186.30" font-size="7.9" text-anchor="end" fill="#000">10</text>
<text x="24.70" y="183.80" font-size="5.9" text-anchor="start" fill="#000" style="stroke-width:0.3px">6</text>
<line x1="28.30" y1="237.20" x2="30.30" y2="237.20" stroke="#1a1a1a" stroke-width="1"/>
<text x="24.70" y="240.10" font-size="7.9" text-anchor="end" fill="#000">10</text>
<text x="24.70" y="237.60" font-size="5.9" text-anchor="start" fill="#000" style="stroke-width:0.3px">5</text>
<line x1="28.30" y1="291.00" x2="30.30" y2="291.00" stroke="#1a1a1a" stroke-width="1"/>
<text x="24.70" y="293.90" font-size="7.9" text-anchor="end" fill="#000">10</text>
<text x="24.70" y="291.40" font-size="5.9" text-anchor="start" fill="#000" style="stroke-width:0.3px">4</text>
<line x1="29.00" y1="274.80" x2="30.30" y2="274.80" stroke="#1a1a1a" stroke-width="0.7"/>
<line x1="29.00" y1="265.33" x2="30.30" y2="265.33" stroke="#1a1a1a" stroke-width="0.7"/>
<line x1="29.00" y1="258.61" x2="30.30" y2="258.61" stroke="#1a1a1a" stroke-width="0.7"/>
<line x1="29.00" y1="253.40" x2="30.30" y2="253.40" stroke="#1a1a1a" stroke-width="0.7"/>
<line x1="29.00" y1="249.14" x2="30.30" y2="249.14" stroke="#1a1a1a" stroke-width="0.7"/>
<line x1="29.00" y1="245.53" x2="30.30" y2="245.53" stroke="#1a1a1a" stroke-width="0.7"/>
<line x1="29.00" y1="242.41" x2="30.30" y2="242.41" stroke="#1a1a1a" stroke-width="0.7"/>
<line x1="29.00" y1="239.66" x2="30.30" y2="239.66" stroke="#1a1a1a" stroke-width="0.7"/>
<line x1="29.00" y1="221.00" x2="30.30" y2="221.00" stroke="#1a1a1a" stroke-width="0.7"/>
<line x1="29.00" y1="211.53" x2="30.30" y2="211.53" stroke="#1a1a1a" stroke-width="0.7"/>
<line x1="29.00" y1="204.81" x2="30.30" y2="204.81" stroke="#1a1a1a" stroke-width="0.7"/>
<line x1="29.00" y1="199.60" x2="30.30" y2="199.60" stroke="#1a1a1a" stroke-width="0.7"/>
<line x1="29.00" y1="195.34" x2="30.30" y2="195.34" stroke="#1a1a1a" stroke-width="0.7"/>
<line x1="29.00" y1="191.73" x2="30.30" y2="191.73" stroke="#1a1a1a" stroke-width="0.7"/>
<line x1="29.00" y1="188.61" x2="30.30" y2="188.61" stroke="#1a1a1a" stroke-width="0.7"/>
<line x1="29.00" y1="185.86" x2="30.30" y2="185.86" stroke="#1a1a1a" stroke-width="0.7"/>
<text transform="translate(10.80,232.30) rotate(-90)" font-size="7.5" text-anchor="middle" fill="#000">p24 concentration (pg/mL)</text>
<text x="145.00" y="312.60" font-size="8" text-anchor="middle" fill="#000" color="#000" >Days of viral growth</text>
<text transform="translate(4.60,174.90) scale(0.94,1)" font-size="16.4" fill="#000">C</text>
<text x="33.50" y="188.00" font-size="7.5" fill="#36ad7b" color="#36ad7b">HIV<tspan font-size="5.8" dy="3.2">REJO.c</tspan></text>
<text x="33.50" y="201.30" font-size="7.8" text-anchor="start" fill="#000" color="#000" >Fitted data</text>
<text x="33.50" y="212.30" font-size="7.8" text-anchor="start" fill="#000" color="#000" >r = 0.61–0.99</text>
<text x="256.00" y="188.60" font-size="7.8" text-anchor="end" fill="#000" color="#000" >n = 12</text>
<polyline points="325.40,233.70 330.62,232.65 335.83,231.62 341.04,230.60 346.26,229.59 351.47,228.60 356.69,227.62 361.90,226.65 367.12,225.69 372.33,224.75 377.55,223.81 382.76,222.89 387.98,221.99 393.19,221.09 398.41,220.21 403.62,219.34 408.84,218.49 414.05,217.64 419.27,216.81 424.48,215.99 429.70,215.19 434.91,214.39 440.13,213.61 445.34,212.84 450.56,212.09 455.77,211.34 460.99,210.61 466.20,209.89 471.42,209.19 476.63,208.49 481.85,207.81 487.06,207.15 492.28,206.49 497.50,205.85 502.71,205.22 507.92,204.60 513.14,203.99 518.36,203.40 523.57,202.82 528.78,202.25 534.00,201.70" fill="none" stroke="#5a8ee0" stroke-width="0.95" stroke-dasharray="1.8 1.2" opacity="1"/>
<polyline points="325.40,236.80 330.62,235.73 335.83,234.68 341.04,233.64 346.26,232.61 351.47,231.60 356.69,230.60 361.90,229.61 367.12,228.63 372.33,227.67 377.55,226.72 382.76,225.78 387.98,224.85 393.19,223.94 398.41,223.04 403.62,222.15 408.84,221.28 414.05,220.42 419.27,219.57 424.48,218.73 429.70,217.91 434.91,217.10 440.13,216.30 445.34,215.51 450.56,214.74 455.77,213.98 460.99,213.23 466.20,212.50 471.42,211.77 476.63,211.06 481.85,210.37 487.06,209.68 492.28,209.01 497.50,208.35 502.71,207.71 507.92,207.07 513.14,206.45 518.36,205.85 523.57,205.25 528.78,204.67 534.00,204.10" fill="none" stroke="#2a9f2a" stroke-width="0.95" stroke-dasharray="1.8 1.2" opacity="1"/>
<polyline points="325.40,250.60 330.62,249.41 335.83,248.22 341.04,247.06 346.26,245.90 351.47,244.76 356.69,243.64 361.90,242.52 367.12,241.42 372.33,240.33 377.55,239.26 382.76,238.20 387.98,237.15 393.19,236.12 398.41,235.10 403.62,234.09 408.84,233.10 414.05,232.12 419.27,231.16 424.48,230.20 429.70,229.26 434.91,228.34 440.13,227.43 445.34,226.53 450.56,225.64 455.77,224.77 460.99,223.91 466.20,223.07 471.42,222.23 476.63,221.42 481.85,220.61 487.06,219.82 492.28,219.04 497.50,218.28 502.71,217.53 507.92,216.79 513.14,216.06 518.36,215.35 523.57,214.65 528.78,213.97 534.00,213.30" fill="none" stroke="#ff9a2a" stroke-width="0.95" stroke-dasharray="1.8 1.2" opacity="1"/>
<polyline points="325.40,252.00 330.62,250.71 335.83,249.44 341.04,248.17 346.26,246.92 351.47,245.69 356.69,244.46 361.90,243.26 367.12,242.06 372.33,240.88 377.55,239.71 382.76,238.55 387.98,237.41 393.19,236.28 398.41,235.16 403.62,234.06 408.84,232.97 414.05,231.89 419.27,230.83 424.48,229.78 429.70,228.74 434.91,227.72 440.13,226.71 445.34,225.71 450.56,224.73 455.77,223.76 460.99,222.80 466.20,221.86 471.42,220.93 476.63,220.01 481.85,219.11 487.06,218.22 492.28,217.34 497.50,216.48 502.71,215.62 507.92,214.79 513.14,213.96 518.36,213.15 523.57,212.36 528.78,211.57 534.00,210.80" fill="none" stroke="#6aa6e8" stroke-width="0.95" stroke-dasharray="1.8 1.2" opacity="1"/>
<polyline points="325.40,261.40 330.62,260.14 335.83,258.90 341.04,257.66 346.26,256.44 351.47,255.24 356.69,254.04 361.90,252.87 367.12,251.70 372.33,250.55 377.55,249.41 382.76,248.28 387.98,247.17 393.19,246.07 398.41,244.98 403.62,243.91 408.84,242.85 414.05,241.80 419.27,240.77 424.48,239.75 429.70,238.74 434.91,237.75 440.13,236.77 445.34,235.80 450.56,234.85 455.77,233.91 460.99,232.98 466.20,232.07 471.42,231.17 476.63,230.28 481.85,229.41 487.06,228.55 492.28,227.70 497.50,226.87 502.71,226.04 507.92,225.24 513.14,224.44 518.36,223.66 523.57,222.90 528.78,222.14 534.00,221.40" fill="none" stroke="#9ede46" stroke-width="0.95" stroke-dasharray="1.8 1.2" opacity="1"/>
<polyline points="325.40,263.50 330.62,262.30 335.83,261.10 341.04,259.92 346.26,258.74 351.47,257.57 356.69,256.42 361.90,255.27 367.12,254.14 372.33,253.01 377.55,251.90 382.76,250.79 387.98,249.70 393.19,248.61 398.41,247.54 403.62,246.47 408.84,245.42 414.05,244.38 419.27,243.34 424.48,242.31 429.70,241.30 434.91,240.29 440.13,239.30 445.34,238.31 450.56,237.34 455.77,236.37 460.99,235.42 466.20,234.47 471.42,233.54 476.63,232.61 481.85,231.70 487.06,230.79 492.28,229.90 497.50,229.01 502.71,228.14 507.92,227.27 513.14,226.42 518.36,225.58 523.57,224.74 528.78,223.92 534.00,223.10" fill="none" stroke="#9a45ee" stroke-width="0.95" stroke-dasharray="1.8 1.2" opacity="1"/>
<polyline points="325.40,266.40 330.62,265.18 335.83,263.98 341.04,262.79 346.26,261.61 351.47,260.44 356.69,259.28 361.90,258.13 367.12,257.00 372.33,255.88 377.55,254.76 382.76,253.66 387.98,252.58 393.19,251.50 398.41,250.43 403.62,249.38 408.84,248.34 414.05,247.31 419.27,246.29 424.48,245.28 429.70,244.29 434.91,243.30 440.13,242.33 445.34,241.37 450.56,240.42 455.77,239.48 460.99,238.55 466.20,237.64 471.42,236.74 476.63,235.84 481.85,234.96 487.06,234.10 492.28,233.24 497.50,232.39 502.71,231.56 507.92,230.74 513.14,229.93 518.36,229.13 523.57,228.34 528.78,227.56 534.00,226.80" fill="none" stroke="#dc9cf6" stroke-width="0.95" stroke-dasharray="1.8 1.2" opacity="1"/>
<polyline points="325.40,278.60 330.62,277.46 335.83,276.31 341.04,275.17 346.26,274.02 351.47,272.88 356.69,271.73 361.90,270.57 367.12,269.42 372.33,268.27 377.55,267.11 382.76,265.95 387.98,264.79 393.19,263.63 398.41,262.47 403.62,261.31 408.84,260.14 414.05,258.97 419.27,257.81 424.48,256.64 429.70,255.46 434.91,254.29 440.13,253.12 445.34,251.94 450.56,250.76 455.77,249.58 460.99,248.40 466.20,247.22 471.42,246.03 476.63,244.85 481.85,243.66 487.06,242.47 492.28,241.28 497.50,240.09 502.71,238.90 507.92,237.70 513.14,236.50 518.36,235.30 523.57,234.10 528.78,232.90 534.00,231.70" fill="none" stroke="#5a8ee0" stroke-width="0.95" stroke-dasharray="1.8 1.2" opacity="1"/>
<polyline points="325.40,278.70 330.62,277.54 335.83,276.39 341.04,275.23 346.26,274.08 351.47,272.94 356.69,271.79 361.90,270.65 367.12,269.52 372.33,268.38 377.55,267.25 382.76,266.12 387.98,265.00 393.19,263.87 398.41,262.75 403.62,261.64 408.84,260.52 414.05,259.41 419.27,258.31 424.48,257.20 429.70,256.10 434.91,255.00 440.13,253.91 445.34,252.81 450.56,251.72 455.77,250.64 460.99,249.55 466.20,248.47 471.42,247.40 476.63,246.32 481.85,245.25 487.06,244.18 492.28,243.12 497.50,242.05 502.71,240.99 507.92,239.94 513.14,238.88 518.36,237.83 523.57,236.79 528.78,235.74 534.00,234.70" fill="none" stroke="#f0d080" stroke-width="0.95" stroke-dasharray="1.8 1.2" opacity="1"/>
<polyline points="325.40,250.80 330.62,249.61 335.83,248.42 341.04,247.26 346.26,246.10 351.47,244.96 356.69,243.84 361.90,242.72 367.12,241.62 372.33,240.53 377.55,239.46 382.76,238.40 387.98,237.35 393.19,236.32 398.41,235.30 403.62,234.29 408.84,233.30 414.05,232.32 419.27,231.36 424.48,230.40 429.70,229.46 434.91,228.54 440.13,227.63 445.34,226.73 450.56,225.84 455.77,224.97 460.99,224.11 466.20,223.27 471.42,222.43 476.63,221.62 481.85,220.81 487.06,220.02 492.28,219.24 497.50,218.48 502.71,217.73 507.92,216.99 513.14,216.26 518.36,215.55 523.57,214.85 528.78,214.17 534.00,213.50" fill="none" stroke="#ffbf70" stroke-width="0.95" stroke-dasharray="1.8 1.2" opacity="1"/>
<rect x="314.60" y="179.60" width="230.10" height="114.50" fill="none" stroke="#1a1a1a" stroke-width="1.3"/>
<line x1="325.40" y1="294.10" x2="325.40" y2="296.10" stroke="#1a1a1a" stroke-width="1"/>
<text x="325.40" y="304.30" font-size="7.9" text-anchor="middle" fill="#000" color="#000" >2</text>
<line x1="377.55" y1="294.10" x2="377.55" y2="296.10" stroke="#1a1a1a" stroke-width="1"/>
<text x="377.55" y="304.30" font-size="7.9" text-anchor="middle" fill="#000" color="#000" >3</text>
<line x1="429.70" y1="294.10" x2="429.70" y2="296.10" stroke="#1a1a1a" stroke-width="1"/>
<text x="429.70" y="304.30" font-size="7.9" text-anchor="middle" fill="#000" color="#000" >4</text>
<line x1="481.85" y1="294.10" x2="481.85" y2="296.10" stroke="#1a1a1a" stroke-width="1"/>
<text x="481.85" y="304.30" font-size="7.9" text-anchor="middle" fill="#000" color="#000" >5</text>
<line x1="534.00" y1="294.10" x2="534.00" y2="296.10" stroke="#1a1a1a" stroke-width="1"/>
<text x="534.00" y="304.30" font-size="7.9" text-anchor="middle" fill="#000" color="#000" >6</text>
<line x1="312.60" y1="191.10" x2="314.60" y2="191.10" stroke="#1a1a1a" stroke-width="1"/>
<text x="309.00" y="194.00" font-size="7.9" text-anchor="end" fill="#000">10</text>
<text x="309.00" y="191.50" font-size="5.9" text-anchor="start" fill="#000" style="stroke-width:0.3px">8</text>
<line x1="312.60" y1="229.40" x2="314.60" y2="229.40" stroke="#1a1a1a" stroke-width="1"/>
<text x="309.00" y="232.30" font-size="7.9" text-anchor="end" fill="#000">10</text>
<text x="309.00" y="229.80" font-size="5.9" text-anchor="start" fill="#000" style="stroke-width:0.3px">7</text>
<line x1="312.60" y1="267.70" x2="314.60" y2="267.70" stroke="#1a1a1a" stroke-width="1"/>
<text x="309.00" y="270.60" font-size="7.9" text-anchor="end" fill="#000">10</text>
<text x="309.00" y="268.10" font-size="5.9" text-anchor="start" fill="#000" style="stroke-width:0.3px">6</text>
<line x1="313.30" y1="287.73" x2="314.60" y2="287.73" stroke="#1a1a1a" stroke-width="0.7"/>
<line x1="313.30" y1="282.94" x2="314.60" y2="282.94" stroke="#1a1a1a" stroke-width="0.7"/>
<line x1="313.30" y1="279.23" x2="314.60" y2="279.23" stroke="#1a1a1a" stroke-width="0.7"/>
<line x1="313.30" y1="276.20" x2="314.60" y2="276.20" stroke="#1a1a1a" stroke-width="0.7"/>
<line x1="313.30" y1="273.63" x2="314.60" y2="273.63" stroke="#1a1a1a" stroke-width="0.7"/>
<line x1="313.30" y1="271.41" x2="314.60" y2="271.41" stroke="#1a1a1a" stroke-width="0.7"/>
<line x1="313.30" y1="269.45" x2="314.60" y2="269.45" stroke="#1a1a1a" stroke-width="0.7"/>
<line x1="313.30" y1="256.17" x2="314.60" y2="256.17" stroke="#1a1a1a" stroke-width="0.7"/>
<line x1="313.30" y1="249.43" x2="314.60" y2="249.43" stroke="#1a1a1a" stroke-width="0.7"/>
<line x1="313.30" y1="244.64" x2="314.60" y2="244.64" stroke="#1a1a1a" stroke-width="0.7"/>
<line x1="313.30" y1="240.93" x2="314.60" y2="240.93" stroke="#1a1a1a" stroke-width="0.7"/>
<line x1="313.30" y1="237.90" x2="314.60" y2="237.90" stroke="#1a1a1a" stroke-width="0.7"/>
<line x1="313.30" y1="235.33" x2="314.60" y2="235.33" stroke="#1a1a1a" stroke-width="0.7"/>
<line x1="313.30" y1="233.11" x2="314.60" y2="233.11" stroke="#1a1a1a" stroke-width="0.7"/>
<line x1="313.30" y1="231.15" x2="314.60" y2="231.15" stroke="#1a1a1a" stroke-width="0.7"/>
<line x1="313.30" y1="217.87" x2="314.60" y2="217.87" stroke="#1a1a1a" stroke-width="0.7"/>
<line x1="313.30" y1="211.13" x2="314.60" y2="211.13" stroke="#1a1a1a" stroke-width="0.7"/>
<line x1="313.30" y1="206.34" x2="314.60" y2="206.34" stroke="#1a1a1a" stroke-width="0.7"/>
<line x1="313.30" y1="202.63" x2="314.60" y2="202.63" stroke="#1a1a1a" stroke-width="0.7"/>
<line x1="313.30" y1="199.60" x2="314.60" y2="199.60" stroke="#1a1a1a" stroke-width="0.7"/>
<line x1="313.30" y1="197.03" x2="314.60" y2="197.03" stroke="#1a1a1a" stroke-width="0.7"/>
<line x1="313.30" y1="194.81" x2="314.60" y2="194.81" stroke="#1a1a1a" stroke-width="0.7"/>
<line x1="313.30" y1="192.85" x2="314.60" y2="192.85" stroke="#1a1a1a" stroke-width="0.7"/>
<text transform="translate(295.00,232.80) rotate(-90)" font-size="7.5" text-anchor="middle" fill="#000">Viral load (GC/mL)</text>
<text x="429.70" y="312.80" font-size="8" text-anchor="middle" fill="#000" color="#000" >Days of viral growth</text>
<text transform="translate(289.30,173.60) scale(0.94,1)" font-size="16.4" fill="#000">D</text>
<text x="318.50" y="187.80" font-size="7.5" fill="#1c9c1c" color="#1c9c1c">HIV<tspan font-size="5.8" dy="3.2">REJO.c</tspan></text>
<text x="318.80" y="201.80" font-size="7.8" text-anchor="start" fill="#000" color="#000" >Fitted data</text>
<text x="318.80" y="212.80" font-size="7.8" text-anchor="start" fill="#000" color="#000" >r = 0.69–0.82</text>
<text x="541.00" y="188.80" font-size="7.8" text-anchor="end" fill="#000" color="#000" >n = 10</text>
<line x1="30.3" y1="453.9" x2="259.6" y2="453.9" stroke="#c8c8c8" stroke-width="1.6"/>
<polygon points="40.5,453.4 248.6,367.7 248.6,394.0" fill="#9dd2ba"/>
<polyline points="40.50,453.40 248.60,367.70" fill="none" stroke="#3a78d0" stroke-width="1.25" stroke-dasharray="1.9 1.0" opacity="1"/>
<polyline points="40.50,453.40 248.60,376.60" fill="none" stroke="#c9a85a" stroke-width="1.25" stroke-dasharray="1.9 1.0" opacity="1"/>
<polyline points="40.50,453.40 248.60,379.20" fill="none" stroke="#a9a3c8" stroke-width="1.25" stroke-dasharray="1.9 1.0" opacity="1"/>
<polyline points="40.50,453.40 248.60,386.60" fill="none" stroke="#8f8fd0" stroke-width="1.25" stroke-dasharray="1.9 1.0" opacity="1"/>
<polyline points="40.50,453.40 248.60,393.20" fill="none" stroke="#3a9f86" stroke-width="1.25" stroke-dasharray="1.9 1.0" opacity="1"/>
<polyline points="40.50,453.40 248.60,398.00" fill="none" stroke="#2a6fb0" stroke-width="1.25" stroke-dasharray="1.9 1.0" opacity="1"/>
<polyline points="40.50,453.40 248.60,400.20" fill="none" stroke="#b8e05a" stroke-width="1.25" stroke-dasharray="1.9 1.0" opacity="1"/>
<line x1="40.5" y1="453.4" x2="248.6" y2="381.5" stroke="#2e9a7a" stroke-width="1.2"/>
<rect x="30.30" y="346.80" width="229.30" height="115.00" fill="none" stroke="#1a1a1a" stroke-width="1.3"/>
<line x1="40.50" y1="461.80" x2="40.50" y2="463.80" stroke="#1a1a1a" stroke-width="1"/>
<text x="40.50" y="472.00" font-size="7.9" text-anchor="middle" fill="#000" color="#000" >0</text>
<line x1="92.65" y1="461.80" x2="92.65" y2="463.80" stroke="#1a1a1a" stroke-width="1"/>
<text x="92.65" y="472.00" font-size="7.9" text-anchor="middle" fill="#000" color="#000" >1</text>
<line x1="144.80" y1="461.80" x2="144.80" y2="463.80" stroke="#1a1a1a" stroke-width="1"/>
<text x="144.80" y="472.00" font-size="7.9" text-anchor="middle" fill="#000" color="#000" >2</text>
<line x1="196.95" y1="461.80" x2="196.95" y2="463.80" stroke="#1a1a1a" stroke-width="1"/>
<text x="196.95" y="472.00" font-size="7.9" text-anchor="middle" fill="#000" color="#000" >3</text>
<line x1="249.10" y1="461.80" x2="249.10" y2="463.80" stroke="#1a1a1a" stroke-width="1"/>
<text x="249.10" y="472.00" font-size="7.9" text-anchor="middle" fill="#000" color="#000" >4</text>
<line x1="28.30" y1="350.80" x2="30.30" y2="350.80" stroke="#1a1a1a" stroke-width="1"/>
<text x="24.70" y="353.70" font-size="7.9" text-anchor="end" fill="#000">10</text>
<text x="24.70" y="351.20" font-size="5.9" text-anchor="start" fill="#000" style="stroke-width:0.3px">2</text>
<line x1="28.30" y1="402.10" x2="30.30" y2="402.10" stroke="#1a1a1a" stroke-width="1"/>
<text x="24.70" y="405.00" font-size="7.9" text-anchor="end" fill="#000">10</text>
<text x="24.70" y="402.50" font-size="5.9" text-anchor="start" fill="#000" style="stroke-width:0.3px">1</text>
<line x1="28.30" y1="453.40" x2="30.30" y2="453.40" stroke="#1a1a1a" stroke-width="1"/>
<text x="24.70" y="456.30" font-size="7.9" text-anchor="end" fill="#000">10</text>
<text x="24.70" y="453.80" font-size="5.9" text-anchor="start" fill="#000" style="stroke-width:0.3px">0</text>
<line x1="29.00" y1="458.37" x2="30.30" y2="458.37" stroke="#1a1a1a" stroke-width="0.7"/>
<line x1="29.00" y1="455.75" x2="30.30" y2="455.75" stroke="#1a1a1a" stroke-width="0.7"/>
<line x1="29.00" y1="437.96" x2="30.30" y2="437.96" stroke="#1a1a1a" stroke-width="0.7"/>
<line x1="29.00" y1="428.92" x2="30.30" y2="428.92" stroke="#1a1a1a" stroke-width="0.7"/>
<line x1="29.00" y1="422.51" x2="30.30" y2="422.51" stroke="#1a1a1a" stroke-width="0.7"/>
<line x1="29.00" y1="417.54" x2="30.30" y2="417.54" stroke="#1a1a1a" stroke-width="0.7"/>
<line x1="29.00" y1="413.48" x2="30.30" y2="413.48" stroke="#1a1a1a" stroke-width="0.7"/>
<line x1="29.00" y1="410.05" x2="30.30" y2="410.05" stroke="#1a1a1a" stroke-width="0.7"/>
<line x1="29.00" y1="407.07" x2="30.30" y2="407.07" stroke="#1a1a1a" stroke-width="0.7"/>
<line x1="29.00" y1="404.45" x2="30.30" y2="404.45" stroke="#1a1a1a" stroke-width="0.7"/>
<line x1="29.00" y1="386.66" x2="30.30" y2="386.66" stroke="#1a1a1a" stroke-width="0.7"/>
<line x1="29.00" y1="377.62" x2="30.30" y2="377.62" stroke="#1a1a1a" stroke-width="0.7"/>
<line x1="29.00" y1="371.21" x2="30.30" y2="371.21" stroke="#1a1a1a" stroke-width="0.7"/>
<line x1="29.00" y1="366.24" x2="30.30" y2="366.24" stroke="#1a1a1a" stroke-width="0.7"/>
<line x1="29.00" y1="362.18" x2="30.30" y2="362.18" stroke="#1a1a1a" stroke-width="0.7"/>
<line x1="29.00" y1="358.75" x2="30.30" y2="358.75" stroke="#1a1a1a" stroke-width="0.7"/>
<line x1="29.00" y1="355.77" x2="30.30" y2="355.77" stroke="#1a1a1a" stroke-width="0.7"/>
<line x1="29.00" y1="353.15" x2="30.30" y2="353.15" stroke="#1a1a1a" stroke-width="0.7"/>
<text transform="translate(10.80,400.50) rotate(-90)" font-size="7.5" text-anchor="middle" fill="#000">p24 concentration (pg/mL)</text>
<text x="144.80" y="480.50" font-size="8" text-anchor="middle" fill="#000" color="#000" >Days of viral growth</text>
<text transform="translate(5.40,343.30) scale(0.94,1)" font-size="16.4" fill="#000">E</text>
<line x1="33.8" y1="353.2" x2="41.8" y2="353.2" stroke="#36ad7b" stroke-width="0.8"/>
<text x="45.80" y="355.50" font-size="7.5" fill="#36ad7b" color="#36ad7b">HIV<tspan font-size="5.8" dy="3.2">REJO.c</tspan></text>
<text x="33.30" y="369.00" font-size="7.8" text-anchor="start" fill="#000" color="#000" >r = 0.83</text>
<text x="256.00" y="356.00" font-size="7.8" text-anchor="end" fill="#000" color="#000" >n = 12</text>
<line x1="314.6" y1="454.5" x2="544.6" y2="454.5" stroke="#9a9a9a" stroke-width="0.8"/>
<g transform="translate(0,-0.4)">
<polygon points="325.7,454.5 534.1,383.4 534.1,392.8" fill="#86c786"/>
<polyline points="325.70,454.50 534.10,393.20" fill="none" stroke="#e8a0f0" stroke-width="0.8" stroke-dasharray="2.3 1.3" opacity="0.6"/>
<polyline points="325.70,454.50 534.10,391.50" fill="none" stroke="#1a8a1a" stroke-width="1.4" stroke-dasharray="2.3 1.3" opacity="1"/>
<polyline points="325.70,454.50 534.10,389.80" fill="none" stroke="#3aa03a" stroke-width="1.4" stroke-dasharray="2.3 1.3" opacity="1"/>
<polyline points="325.70,454.50 534.10,387.50" fill="none" stroke="#1f9a1f" stroke-width="1.4" stroke-dasharray="2.3 1.3" opacity="1"/>
<polyline points="325.70,454.50 534.10,385.50" fill="none" stroke="#2a8a2a" stroke-width="1.4" stroke-dasharray="2.3 1.3" opacity="1"/>
<polyline points="325.70,454.50 534.10,383.20" fill="none" stroke="#4f8fe8" stroke-width="1.4" stroke-dasharray="2.3 1.3" opacity="1"/>
<line x1="325.7" y1="454.5" x2="534.1" y2="388.8" stroke="#0f6f0f" stroke-width="1.1"/>
</g>
<rect x="314.60" y="347.10" width="230.00" height="115.10" fill="none" stroke="#1a1a1a" stroke-width="1.3"/>
<line x1="325.70" y1="462.20" x2="325.70" y2="464.20" stroke="#1a1a1a" stroke-width="1"/>
<text x="325.70" y="472.40" font-size="7.9" text-anchor="middle" fill="#000" color="#000" >0</text>
<line x1="377.80" y1="462.20" x2="377.80" y2="464.20" stroke="#1a1a1a" stroke-width="1"/>
<text x="377.80" y="472.40" font-size="7.9" text-anchor="middle" fill="#000" color="#000" >1</text>
<line x1="429.90" y1="462.20" x2="429.90" y2="464.20" stroke="#1a1a1a" stroke-width="1"/>
<text x="429.90" y="472.40" font-size="7.9" text-anchor="middle" fill="#000" color="#000" >2</text>
<line x1="482.00" y1="462.20" x2="482.00" y2="464.20" stroke="#1a1a1a" stroke-width="1"/>
<text x="482.00" y="472.40" font-size="7.9" text-anchor="middle" fill="#000" color="#000" >3</text>
<line x1="534.10" y1="462.20" x2="534.10" y2="464.20" stroke="#1a1a1a" stroke-width="1"/>
<text x="534.10" y="472.40" font-size="7.9" text-anchor="middle" fill="#000" color="#000" >4</text>
<line x1="312.60" y1="351.20" x2="314.60" y2="351.20" stroke="#1a1a1a" stroke-width="1"/>
<text x="309.00" y="354.10" font-size="7.9" text-anchor="end" fill="#000">10</text>
<text x="309.00" y="351.60" font-size="5.9" text-anchor="start" fill="#000" style="stroke-width:0.3px">7</text>
<line x1="312.60" y1="402.85" x2="314.60" y2="402.85" stroke="#1a1a1a" stroke-width="1"/>
<text x="309.00" y="405.75" font-size="7.9" text-anchor="end" fill="#000">10</text>
<text x="309.00" y="403.25" font-size="5.9" text-anchor="start" fill="#000" style="stroke-width:0.3px">6</text>
<line x1="312.60" y1="454.50" x2="314.60" y2="454.50" stroke="#1a1a1a" stroke-width="1"/>
<text x="309.00" y="457.40" font-size="7.9" text-anchor="end" fill="#000">10</text>
<text x="309.00" y="454.90" font-size="5.9" text-anchor="start" fill="#000" style="stroke-width:0.3px">5</text>
<line x1="313.30" y1="459.51" x2="314.60" y2="459.51" stroke="#1a1a1a" stroke-width="0.7"/>
<line x1="313.30" y1="456.86" x2="314.60" y2="456.86" stroke="#1a1a1a" stroke-width="0.7"/>
<line x1="313.30" y1="438.95" x2="314.60" y2="438.95" stroke="#1a1a1a" stroke-width="0.7"/>
<line x1="313.30" y1="429.86" x2="314.60" y2="429.86" stroke="#1a1a1a" stroke-width="0.7"/>
<line x1="313.30" y1="423.40" x2="314.60" y2="423.40" stroke="#1a1a1a" stroke-width="0.7"/>
<line x1="313.30" y1="418.40" x2="314.60" y2="418.40" stroke="#1a1a1a" stroke-width="0.7"/>
<line x1="313.30" y1="414.31" x2="314.60" y2="414.31" stroke="#1a1a1a" stroke-width="0.7"/>
<line x1="313.30" y1="410.85" x2="314.60" y2="410.85" stroke="#1a1a1a" stroke-width="0.7"/>
<line x1="313.30" y1="407.86" x2="314.60" y2="407.86" stroke="#1a1a1a" stroke-width="0.7"/>
<line x1="313.30" y1="405.21" x2="314.60" y2="405.21" stroke="#1a1a1a" stroke-width="0.7"/>
<line x1="313.30" y1="387.30" x2="314.60" y2="387.30" stroke="#1a1a1a" stroke-width="0.7"/>
<line x1="313.30" y1="378.21" x2="314.60" y2="378.21" stroke="#1a1a1a" stroke-width="0.7"/>
<line x1="313.30" y1="371.75" x2="314.60" y2="371.75" stroke="#1a1a1a" stroke-width="0.7"/>
<line x1="313.30" y1="366.75" x2="314.60" y2="366.75" stroke="#1a1a1a" stroke-width="0.7"/>
<line x1="313.30" y1="362.66" x2="314.60" y2="362.66" stroke="#1a1a1a" stroke-width="0.7"/>
<line x1="313.30" y1="359.20" x2="314.60" y2="359.20" stroke="#1a1a1a" stroke-width="0.7"/>
<line x1="313.30" y1="356.21" x2="314.60" y2="356.21" stroke="#1a1a1a" stroke-width="0.7"/>
<line x1="313.30" y1="353.56" x2="314.60" y2="353.56" stroke="#1a1a1a" stroke-width="0.7"/>
<text transform="translate(295.00,400.50) rotate(-90)" font-size="7.5" text-anchor="middle" fill="#000">Viral load (GC/mL)</text>
<text x="429.90" y="480.90" font-size="8" text-anchor="middle" fill="#000" color="#000" >Days of viral growth</text>
<text transform="translate(290.10,342.20) scale(0.94,1)" font-size="16.4" fill="#000">F</text>
<line x1="318.0" y1="354.0" x2="325.1" y2="354.0" stroke="#1c9c1c" stroke-width="0.8"/>
<text x="330.00" y="357.00" font-size="7.5" fill="#1c9c1c" color="#1c9c1c">HIV<tspan font-size="5.8" dy="3.2">REJO.c</tspan></text>
<text x="318.00" y="370.10" font-size="7.8" text-anchor="start" fill="#000" color="#000" >r = 0.75</text>
<text x="541.00" y="356.30" font-size="7.8" text-anchor="end" fill="#000" color="#000" >n = 10</text>
</svg></body></html>
